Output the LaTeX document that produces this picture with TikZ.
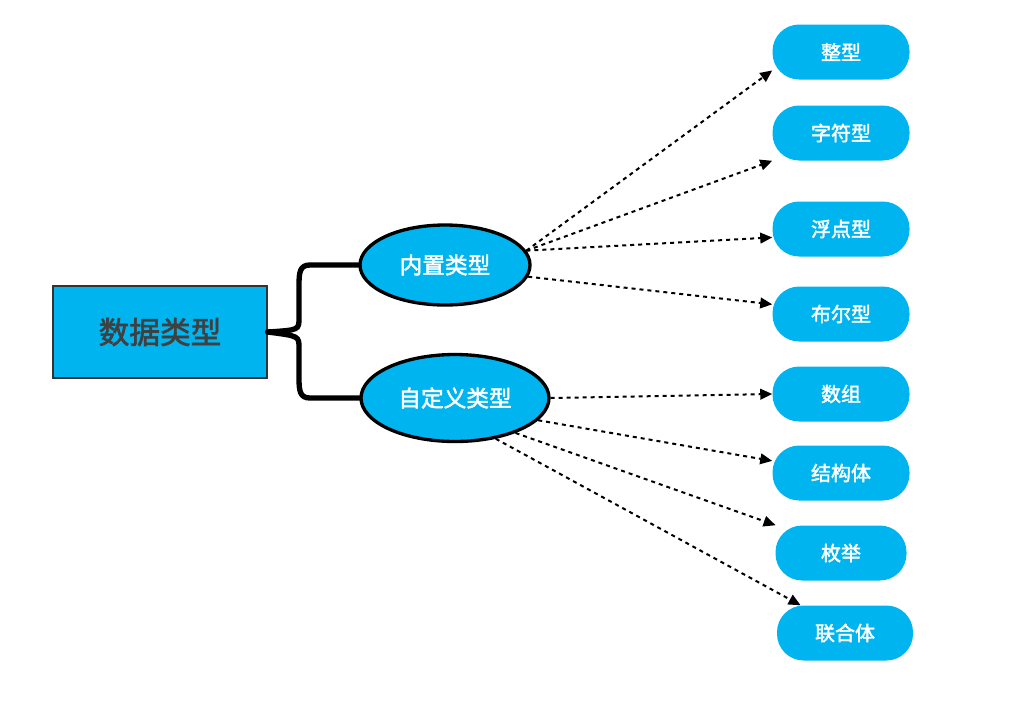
\documentclass[tikz,border=0pt]{standalone}
\usepackage{fontspec}
\setmainfont{Noto Sans CJK SC}[AutoFakeBold=2]
\usetikzlibrary{shapes.geometric,arrows.meta}
\definecolor{cy}{RGB}{0,180,240}
\begin{document}
\begin{tikzpicture}[x=0.75pt,y=-0.75pt,
 pill/.style={fill=cy,rounded corners=20pt,minimum width=137*0.75pt,minimum height=55*0.75pt,font=\bfseries\fontsize{15}{18}\selectfont,text=white,inner sep=0pt},
 ell/.style={ellipse,fill=cy,draw=black,line width=2.5pt,font=\bfseries\fontsize{17}{20}\selectfont,text=white,inner sep=0pt},
 arr/.style={dashed,line width=1.5pt,-{Triangle[length=9pt,width=8pt]}},
 br/.style={line width=4pt,line cap=round}]
\useasboundingbox (0,0) rectangle (1019,711);
\node[draw=black!80,line width=1pt,fill=cy,minimum width=214*0.75pt,minimum height=92*0.75pt,font=\bfseries\fontsize{23}{26}\selectfont,text={rgb,255:red,64;green,64;blue,64}] (main) at (160,332) {数据类型};
\node[ell,minimum width=170*0.75pt,minimum height=80*0.75pt] (e1) at (445,265) {内置类型};
\node[ell,minimum width=188*0.75pt,minimum height=87*0.75pt] (e2) at (455,398) {自定义类型};
\node[pill] (p1) at (841,52) {整型};
\node[pill] (p2) at (841,133) {字符型};
\node[pill] (p3) at (841,229) {浮点型};
\node[pill] (p4) at (841,314) {布尔型};
\node[pill] (p5) at (841,394) {数组};
\node[pill] (p6) at (841,473) {结构体};
\node[pill,minimum width=131*0.75pt] (p7) at (841,553) {枚举};
\node[pill,minimum width=136*0.75pt] (p8) at (845,633) {联合体};
\draw[br] (e1.west) -- (310,265) .. controls (300,265) and (299,272) .. (299,285) -- (299,318) .. controls (299,330) .. (main.east);
\draw[br] (e2.west) -- (310,398) .. controls (300,398) and (299,391) .. (299,378) -- (299,348) .. controls (299,336) .. (main.east);
\draw[arr] (e1.10) -- (p1.195);
\draw[arr] (e1.10) -- (p2.202);
\draw[arr] (e1.10) -- (p3.187);
\draw[arr] (e1.352) -- (p4.172);
\draw[arr] (e2.0) -- (p5.180);
\draw[arr] (e2.345) -- (p6.170);
\draw[arr] (e2.330) -- (p7.157);
\draw[arr] (e2.315) -- (p8.148);
\end{tikzpicture}
\end{document}
